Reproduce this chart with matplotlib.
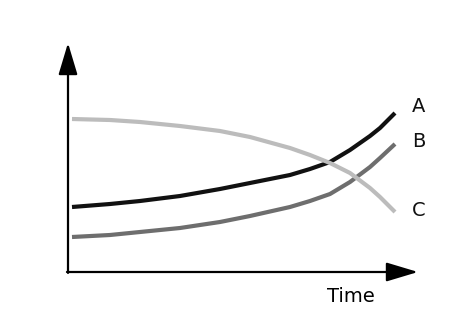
import matplotlib
matplotlib.use("Agg")
import matplotlib.pyplot as plt

time = [4, 42, 72, 112, 152, 182, 222, 242, 262, 282, 302, 312, 327]
series_a = [65, 68, 71, 76, 83, 89, 97, 103, 110, 122, 136, 144, 159]
series_b = [35, 37, 40, 44, 50, 56, 65, 71, 78, 90, 105, 114, 128]
series_c = [153, 152, 150, 146, 141, 135, 124, 117, 109, 99, 84, 75, 60]
labels = ["A", "B", "C"]
colors = ["#111111", "#6e6e6e", "#bcbcbc"]
x_label = "Time"

W, H = 474, 325
fig = plt.figure(figsize=(W/100, H/100), dpi=100)
ox, oy = 68, 272
ax = fig.add_axes([ox/W, (H-oy)/H, (418-ox)/W, (oy-43)/H])
ax.set_xlim(0, 350)
ax.set_ylim(0, 229)
ax.axis("off")

label_dy = [6, 2.5, 1]
for ys, lab, c, dy in zip([series_a, series_b, series_c], labels, colors, label_dy):
    ax.plot(time, ys, color=c, lw=3.0, solid_capstyle="butt", solid_joinstyle="round", clip_on=False)
    ax.text(time[-1] + 17, ys[-1] + dy, lab, fontsize=14, color="#111111",
            ha="left", va="center", family="DejaVu Sans")

arrow = dict(arrowstyle="-|>,head_length=1.4,head_width=0.42", color="black", lw=1.6,
             shrinkA=0, shrinkB=0, mutation_scale=14)
ax.annotate("", xy=(0, 1), xytext=(0, -0.004), xycoords="axes fraction", arrowprops=arrow)
ax.annotate("", xy=(1, 0), xytext=(-0.003, 0), xycoords="axes fraction", arrowprops=arrow)

fig.text(351/W, 1 - 296/H, x_label, fontsize=14, ha="center", va="center", family="DejaVu Sans")

fig.savefig("out.png", dpi=100)
